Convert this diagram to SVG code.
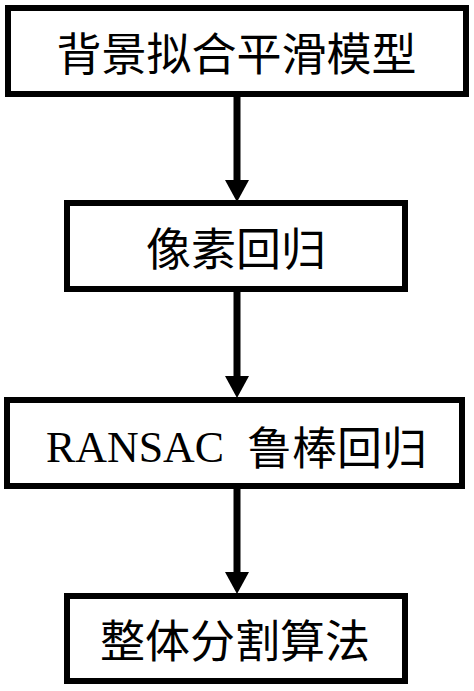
<svg xmlns="http://www.w3.org/2000/svg" width="474" height="691" viewBox="0 0 474 691">
<style>
.box{fill:#fff;stroke:#000;stroke-width:6}
.lbl{font-family:"Liberation Serif","Noto Sans CJK SC",serif;font-size:45px;fill:#000}
.mid{text-anchor:middle}
.ln{stroke:#000;stroke-width:7;fill:none}
.hd{fill:#000;stroke:none}
</style>
<rect width="474" height="691" fill="#fff"/>
<g id="connectors">
<line class="ln" x1="237" y1="97" x2="237" y2="182"/>
<polygon class="hd" points="225,180 249,180 237,202"/>
<line class="ln" x1="237" y1="292" x2="237" y2="378"/>
<polygon class="hd" points="225,376 249,376 237,398"/>
<line class="ln" x1="237" y1="489" x2="237" y2="574"/>
<polygon class="hd" points="225,572 249,572 237,594"/>
</g>
<g id="node1">
<rect class="box" x="8" y="8" width="458" height="86"/>
<text class="lbl mid" x="236.5" y="71">背景拟合平滑模型</text>
</g>
<g id="node2">
<rect class="box" x="67" y="203" width="338" height="86"/>
<text class="lbl mid" x="236" y="266">像素回归</text>
</g>
<g id="node3">
<rect class="box" x="7" y="400" width="455" height="86"/>
<text class="lbl" x="46" y="462" font-size="42" textLength="178" lengthAdjust="spacingAndGlyphs">RANSAC</text>
<text class="lbl" x="247" y="465">鲁棒回归</text>
</g>
<g id="node4">
<rect class="box" x="67" y="596" width="338" height="85"/>
<text class="lbl mid" x="235" y="658">整体分割算法</text>
</g>
</svg>
